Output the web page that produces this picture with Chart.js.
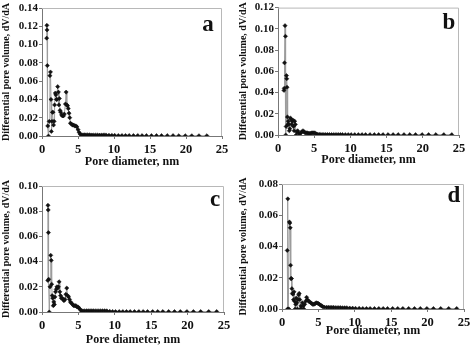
<!DOCTYPE html>
<html>
<head>
<meta charset="utf-8">
<script src="https://cdn.jsdelivr.net/npm/chart.js@4.4.1/dist/chart.umd.min.js"></script>
<style>
html, body { margin: 0; padding: 0; background: #fff; }
#wrap { position: relative; width: 474px; height: 345px; overflow: hidden; }
#wrap canvas { position: absolute; }
</style>
</head>
<body>
<div id="wrap">
    <canvas id="chart-a" style="left:0;top:0"></canvas>
    <canvas id="chart-b" style="left:237px;top:0"></canvas>
    <canvas id="chart-c" style="left:0;top:172px"></canvas>
    <canvas id="chart-d" style="left:237px;top:172px"></canvas>
</div>
<script>
// pore diameters shared by the flat tail of every sample (nm)
const tailDiameter = [6.1, 6.35, 6.6, 6.85, 7.1, 7.4, 7.7, 8.0, 8.3, 8.6, 8.9, 9.3, 9.7, 10.1, 10.6, 11.1, 11.6,
    12.1, 12.7, 13.3, 13.9, 14.5, 15.2, 15.9, 16.6, 17.4, 18.2, 19.0, 19.9, 20.8, 21.8, 22.9, 24.0];

// sample a
const aDiameter = [0.65, 0.68, 0.7, 0.74, 0.8, 0.9, 1.0, 1.1, 1.18, 1.25, 1.3, 1.38, 1.45, 1.52, 1.6, 1.68, 1.75,
    1.85, 1.92, 2.0, 2.08, 2.18, 2.28, 2.35, 2.42, 2.5, 2.6, 2.72, 2.85, 2.98, 3.1, 3.25, 3.35, 3.45, 3.55, 3.65,
    3.75, 3.85, 3.95, 4.1, 4.25, 4.4, 4.55, 4.7, 4.85, 5.0, 5.15, 5.3, 5.5, 5.7, 5.9];
const aVolume = [0.107, 0.121, 0.116, 0.077, 0.011, 0.0, 0.016, 0.066, 0.070, 0.040, 0.005, 0.016, 0.026, 0.026,
    0.012, 0.016, 0.034, 0.047, 0.045, 0.040, 0.040, 0.054, 0.048, 0.034, 0.041, 0.028, 0.026, 0.023, 0.022, 0.022,
    0.024, 0.035, 0.048, 0.034, 0.033, 0.030, 0.025, 0.020, 0.014, 0.013, 0.012, 0.012, 0.011, 0.011, 0.010, 0.007,
    0.004, 0.002, 0.0012, 0.0012, 0.0012];
const aTail = [0.0012, 0.0012, 0.0012, 0.0011, 0.0011, 0.0011, 0.0011, 0.001, 0.001, 0.0012, 0.0011, 0.0008, 0.0006,
    0.0006, 0.0005, 0.0005, 0.0005, 0.0005, 0.0005, 0.0005, 0.0004, 0.0004, 0.0004, 0.0004, 0.0004, 0.0004, 0.0004,
    0.0003, 0.0003, 0.0003, 0.0003, 0.0003];

// sample b
const bDiameter = [0.82, 0.86, 0.9, 0.97, 1.03, 1.07, 1.12, 1.17, 1.21, 1.25, 1.3, 1.36, 1.42, 1.5, 1.56, 1.64, 1.72,
    1.8, 1.9, 1.98, 2.06, 2.14, 2.22, 2.3, 2.4, 2.5, 2.6, 2.72, 2.85, 3.0, 3.15, 3.3, 3.45, 3.6, 3.75, 3.9, 4.05,
    4.2, 4.35, 4.5, 4.65, 4.8, 4.95, 5.1, 5.3, 5.5, 5.7, 5.9];
const bVolume = [0.042, 0.044, 0.068, 0.103, 0.093, 0.0, 0.008, 0.056, 0.053, 0.045, 0.017, 0.010, 0.013, 0.010,
    0.004, 0.006, 0.016, 0.015, 0.010, 0.013, 0.014, 0.008, 0.004, 0.013, 0.010, 0.0, 0.003, 0.004, 0.002, 0.0,
    0.002, 0.003, 0.004, 0.003, 0.002, 0.002, 0.002, 0.0015, 0.0015, 0.0015, 0.002, 0.002, 0.002, 0.002, 0.001,
    0.0005, 0.0005, 0.0004];
const bTail = [0.0004, 0.0004, 0.0004, 0.0004, 0.0004, 0.0004, 0.0004, 0.0004, 0.0004, 0.0004, 0.0004, 0.0003,
    0.0003, 0.0003, 0.0003, 0.0003, 0.0003, 0.0003, 0.0003, 0.0003, 0.0003, 0.0003, 0.0003, 0.0003, 0.0003, 0.0003,
    0.0003, 0.0003, 0.0003, 0.0003, 0.0003, 0.0003, 0.0003];

// sample c
const cDiameter = [0.8, 0.82, 0.85, 0.88, 0.92, 1.0, 1.1, 1.2, 1.27, 1.33, 1.4, 1.47, 1.55, 1.62, 1.7, 1.78, 1.86,
    1.95, 2.05, 2.15, 2.25, 2.35, 2.45, 2.55, 2.65, 2.78, 2.9, 3.02, 3.15, 3.28, 3.4, 3.52, 3.65, 3.78, 3.9, 4.05,
    4.2, 4.35, 4.5, 4.65, 4.8, 4.95, 5.1, 5.25, 5.4, 5.6, 5.8];
const cVolume = [0.025, 0.0847, 0.081, 0.063, 0.026, 0.0, 0.020, 0.045, 0.041, 0.022, 0.013, 0.011, 0.005, 0.008,
    0.006, 0.012, 0.016, 0.018, 0.020, 0.019, 0.020, 0.024, 0.016, 0.013, 0.011, 0.011, 0.010, 0.009, 0.010, 0.014,
    0.019, 0.013, 0.012, 0.010, 0.008, 0.007, 0.006, 0.005, 0.005, 0.005, 0.004, 0.004, 0.003, 0.002, 0.001, 0.0008,
    0.001];
const cTail = [0.001, 0.001, 0.001, 0.001, 0.001, 0.001, 0.001, 0.001, 0.001, 0.001, 0.0009, 0.0005, 0.0004, 0.0003,
    0.0003, 0.0003, 0.0003, 0.0003, 0.0003, 0.0003, 0.0003, 0.0003, 0.0003, 0.0003, 0.0003, 0.0003, 0.0003, 0.0003,
    0.0003, 0.0003, 0.0003, 0.0003, 0.0003];

// sample d
const dDiameter = [0.72, 0.76, 0.8, 0.86, 0.95, 1.02, 1.08, 1.13, 1.18, 1.23, 1.3, 1.36, 1.42, 1.5, 1.58, 1.65,
    1.72, 1.8, 1.88, 1.96, 2.04, 2.12, 2.2, 2.28, 2.36, 2.44, 2.52, 2.6, 2.7, 2.8, 2.9, 3.0, 3.12, 3.25, 3.38, 3.5,
    3.65, 3.8, 3.95, 4.1, 4.25, 4.4, 4.55, 4.7, 4.85, 5.0, 5.15, 5.3, 5.45, 5.6, 5.8];
const dVolume = [0.0375, 0.0, 0.0705, 0.0, 0.0, 0.0557, 0.055, 0.052, 0.028, 0.0195, 0.0195, 0.013, 0.010, 0.0095,
    0.006, 0.011, 0.005, 0.0, 0.003, 0.007, 0.004, 0.0, 0.006, 0.009, 0.010, 0.006, 0.0, 0.002, 0.0, 0.004, 0.002,
    0.0, 0.003, 0.005, 0.0075, 0.006, 0.005, 0.0045, 0.004, 0.0035, 0.003, 0.003, 0.0035, 0.004, 0.0038, 0.0035,
    0.003, 0.0025, 0.002, 0.0015, 0.0012];
const dTail = [0.0011, 0.0011, 0.001, 0.001, 0.001, 0.0009, 0.0009, 0.0009, 0.0008, 0.0008, 0.0008, 0.0006, 0.0005,
    0.0004, 0.0004, 0.0003, 0.0003, 0.0003, 0.0003, 0.0003, 0.0003, 0.0003, 0.0003, 0.0003, 0.0003, 0.0003, 0.0003,
    0.0003, 0.0003, 0.0003, 0.0003, 0.0003, 0.0003];

const xTicks = [0, 5, 10, 15, 20, 25];

const SERIF = "'Liberation Serif', 'Times New Roman', serif";

function toPoints(diam, vol, tail) {
    const xs = diam.concat(tailDiameter.slice(0, tail.length));
    const ys = vol.concat(tail);
    return xs.map((x, i) => ({ x: x, y: ys[i] }));
}

// thin grey frame on top/right and the panel letter
const framePlugin = {
    id: 'frame',
    afterDraw(chart, args, opts) {
        const { ctx, chartArea: a } = chart;
        ctx.save();
        ctx.strokeStyle = '#b8b8b8';
        ctx.lineWidth = 1;
        ctx.beginPath();
        ctx.moveTo(a.left, a.top + 0.5);
        ctx.lineTo(a.right - 0.5, a.top + 0.5);
        ctx.lineTo(a.right - 0.5, a.bottom);
        ctx.stroke();
        ctx.fillStyle = '#111';
        ctx.font = 'bold 23px ' + SERIF;
        ctx.textAlign = 'center';
        ctx.textBaseline = 'alphabetic';
        ctx.fillText(opts.letter, opts.lx, opts.ly);
        ctx.restore();
    }
};

function makePanel(id, points, yMax, box) {
    const canvas = document.getElementById(id);
    canvas.width = box.w;
    canvas.height = box.h;
    return new Chart(canvas, {
        type: 'scatter',
        data: {
            datasets: [{
                data: points,
                showLine: true,
                borderColor: '#9c9c9c',
                borderWidth: 1,
                pointStyle: 'rectRot',
                pointRadius: 2.1,
                pointBackgroundColor: '#111',
                pointBorderColor: '#111',
                pointBorderWidth: 0.5,
                tension: 0
            }]
        },
        options: {
            responsive: false,
            animation: false,
            layout: { padding: { top: box.top, right: box.w - box.right, bottom: box.padBottom, left: 0 } },
            plugins: {
                legend: { display: false },
                tooltip: { enabled: false },
                frame: { letter: box.letter, lx: box.lx, ly: box.ly }
            },
            scales: {
                x: {
                    type: 'linear',
                    min: 0, max: 25,
                    afterBuildTicks: s => { s.ticks = xTicks.map(v => ({ value: v })); },
                    afterFit: s => { s.height = box.h - box.padBottom - box.bottom; },
                    border: { display: true, color: '#777', width: 1 },
                    grid: { drawOnChartArea: false, drawTicks: true, tickLength: 3, color: '#777' },
                    ticks: { color: '#111', padding: 3, font: { family: SERIF, size: 12.5, weight: 'bold' }, maxRotation: 0 },
                    title: { display: true, text: 'Pore diameter, nm', color: '#111', padding: 0,
                        font: { family: SERIF, size: 12, weight: 'bold' } }
                },
                y: {
                    min: 0, max: yMax,
                    afterFit: s => { s.width = box.left; },
                    border: { display: true, color: '#777', width: 1 },
                    grid: { drawOnChartArea: false, drawTicks: true, tickLength: 3, color: '#777' },
                    ticks: { stepSize: 0.02, color: '#111', padding: 1,
                        font: { family: SERIF, size: 11, weight: 'bold' },
                        callback: v => v.toFixed(2) },
                    title: { display: true, text: 'Differential pore volume, dV/dA', color: '#111', padding: 0,
                        font: { family: SERIF, size: 10, weight: 'bold' } }
                }
            }
        },
        plugins: [framePlugin]
    });
}

makePanel('chart-a', toPoints(aDiameter, aVolume, aTail), 0.14,
    { w: 237, h: 172, left: 42, right: 222, top: 8, bottom: 136, padBottom: 3, letter: 'a', lx: 208, ly: 31 });
makePanel('chart-b', toPoints(bDiameter, bVolume, bTail), 0.12,
    { w: 237, h: 172, left: 41, right: 222, top: 7, bottom: 135, padBottom: 5, letter: 'b', lx: 212, ly: 29 });
makePanel('chart-c', toPoints(cDiameter, cVolume, cTail), 0.10,
    { w: 237, h: 173, left: 42, right: 224, top: 14, bottom: 140, padBottom: -2, letter: 'c', lx: 215, ly: 34 });
makePanel('chart-d', toPoints(dDiameter, dVolume, dTail), 0.08,
    { w: 237, h: 173, left: 45, right: 227, top: 12, bottom: 137, padBottom: 7, letter: 'd', lx: 217, ly: 30 });
</script>
</body>
</html>
